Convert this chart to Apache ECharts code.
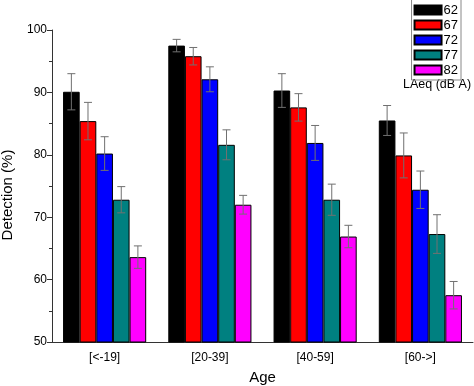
<!DOCTYPE html>
<html>
<head>
<meta charset="utf-8">
<script src="https://cdn.jsdelivr.net/npm/echarts@6/dist/echarts.min.js"></script>
<style>html,body{margin:0;padding:0;background:#fff;}#c{width:474px;height:386px;}</style>
</head>
<body>
<div id="c"></div>
<script>
var categories = ['[<-19]', '[20-39]', '[40-59]', '[60->]'];
var seriesNames = ['62', '67', '72', '77', '82'];
var seriesColors = ['#000000', '#ff0000', '#0000ff', '#008080', '#ff00ff'];
var v62 = [90.1, 97.5, 90.3, 85.5];
var v67 = [85.4, 95.8, 87.6, 79.9];
var v72 = [80.2, 92.1, 81.9, 74.4];
var v77 = [72.8, 81.6, 72.8, 67.3];
var v82 = [63.6, 72.0, 66.9, 57.5];
var e62 = [2.9, 1.0, 2.7, 2.4];
var e67 = [3.0, 1.4, 2.2, 3.6];
var e72 = [2.7, 2.0, 2.8, 3.0];
var e77 = [2.1, 2.4, 2.5, 3.1];
var e82 = [1.8, 1.5, 1.8, 2.2];
var yTicks = [50, 60, 70, 80, 90, 100];

var values = [v62, v67, v72, v77, v82];
var errors = [e62, e67, e72, e77, e82];
var CAT_GAP = 0.21;
var font = 'Liberation Sans, Arial, sans-serif';

var series = [];
values.forEach(function (vals, i) {
  series.push({
    name: seriesNames[i], type: 'bar', data: vals,
    barGap: 0, barCategoryGap: (CAT_GAP * 100) + '%',
    itemStyle: { color: seriesColors[i], borderColor: '#000', borderWidth: 1 },
    emphasis: { disabled: true }, z: 2
  });
});
values.forEach(function (vals, i) {
  series.push({
    type: 'custom', z: 5, silent: true,
    data: vals.map(function (v, k) { return [k, v, errors[i][k]]; }),
    renderItem: function (params, api) {
      var k = api.value(0), v = api.value(1), e = api.value(2);
      var band = api.size([1, 0])[0];
      var groupW = band * (1 - CAT_GAP);
      var barW = groupW / values.length;
      var c = api.coord([k, v]);
      var x = c[0] - groupW / 2 + barW * (i + 0.5);
      var yt = api.coord([k, v + e])[1];
      var yb = api.coord([k, v - e])[1];
      var cap = 4;
      var st = { stroke: '#707070', lineWidth: 1 };
      return { type: 'group', children: [
        { type: 'line', shape: { x1: x, y1: yt, x2: x, y2: yb }, style: st },
        { type: 'line', shape: { x1: x - cap, y1: yt, x2: x + cap, y2: yt }, style: st },
        { type: 'line', shape: { x1: x - cap, y1: yb, x2: x + cap, y2: yb }, style: st }
      ]};
    },
    encode: { x: 0, y: 1 }
  });
});

var chart = echarts.init(document.getElementById('c'));
chart.setOption({
  animation: false,
  backgroundColor: '#fff',
  grid: { left: 52, right: 1, top: 30, bottom: 44, containLabel: false, outerBoundsMode: 'none' },
  legend: {
    orient: 'vertical', right: 13, top: -2,
    data: seriesNames,
    icon: 'rect', itemWidth: 27, itemHeight: 9, itemGap: 1,
    borderColor: '#888', borderWidth: 1, padding: [5, 3, 3, 2],
    textStyle: { fontFamily: font, fontSize: 13, color: '#000', lineHeight: 14, padding: [0, 0, 0, -3] },
    selectedMode: false
  },
  graphic: [{
    type: 'text', left: 403, top: 78,
    style: { text: 'LAeq (dB A)', font: '12.5px ' + font, fill: '#000' }
  }, {
    type: 'text', x: 8, y: 195, rotation: Math.PI / 2,
    style: { text: 'Detection (%)', font: '15px ' + font, fill: '#000', align: 'center', verticalAlign: 'middle' }
  }],
  xAxis: {
    type: 'category', data: categories,
    name: 'Age', nameLocation: 'middle', nameGap: 28,
    nameTextStyle: { fontFamily: font, fontSize: 15, color: '#000' },
    axisLine: { lineStyle: { color: '#333', width: 1 } },
    axisTick: { show: false },
    axisLabel: { fontFamily: font, fontSize: 12, color: '#000', margin: 10 }
  },
  yAxis: {
    type: 'value', min: 50, max: 100, interval: 10,
    axisLine: { show: true, lineStyle: { color: '#333', width: 1 } },
    axisTick: { show: true, inside: false, length: 5, lineStyle: { color: '#333' } },
    minorTick: { show: true, splitNumber: 2, length: 3, lineStyle: { color: '#333' } },
    splitLine: { show: false },
    axisLabel: { fontFamily: font, fontSize: 12, color: '#000', margin: 5,
      formatter: function (v) { return yTicks.indexOf(v) >= 0 ? String(v) : ''; } }
  },
  series: series
});
</script>
</body>
</html>
